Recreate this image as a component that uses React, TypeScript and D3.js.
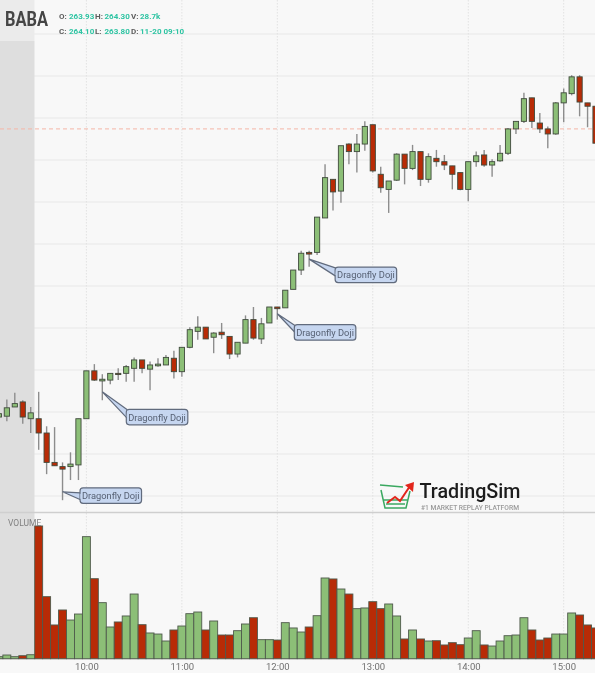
import React, { useRef, useEffect } from 'react';
import * as d3 from 'd3';

// 5 minute bars, first bar is 09:05
const firstBar = new Date(2020, 10, 20, 9, 5);

const opens = [263.94, 263.95, 264.06, 264.12, 263.92, 263.92, 263.75, 263.40, 263.35, 263.35, 263.37,
  263.92, 264.49, 264.37, 264.38, 264.46, 264.46, 264.52, 264.62, 264.51, 264.55, 264.56, 264.64,
  264.48, 264.77, 264.96, 265.01, 264.89, 264.95, 264.90, 264.69, 264.82, 265.10, 264.87, 265.06,
  265.25, 265.24, 265.46, 265.69, 265.90, 265.90, 266.31, 266.77, 266.63, 267.19, 267.10, 267.19,
  267.42, 266.83, 266.65, 266.76, 267.07, 266.90, 267.10, 266.77, 267.02, 266.98, 266.93, 266.85,
  266.65, 266.98, 267.06, 266.94, 266.99, 267.08, 267.37, 267.46, 267.74, 267.44, 267.37, 267.31,
  267.68, 267.79, 267.99, 267.68, 267.64];
const highs = [264.02, 264.15, 264.23, 264.14, 264.06, 264.24, 263.83, 263.82, 263.40, 263.52, 263.92,
  264.49, 264.57, 264.45, 264.46, 264.52, 264.56, 264.65, 264.62, 264.60, 264.64, 264.68, 264.73,
  264.77, 265.01, 265.14, 265.01, 264.95, 265.06, 264.90, 264.83, 265.15, 265.25, 265.12, 265.25,
  265.25, 265.45, 265.69, 265.92, 265.92, 266.32, 266.95, 266.77, 267.17, 267.20, 267.31, 267.46,
  267.42, 266.92, 266.75, 267.08, 267.07, 267.18, 267.10, 267.08, 267.12, 267.06, 266.93, 266.85,
  266.98, 267.10, 267.12, 267.01, 267.18, 267.38, 267.46, 267.80, 267.74, 267.56, 267.40, 267.69,
  267.85, 268.01, 268.01, 267.68, 267.64];
const lows = [263.90, 263.89, 264.06, 263.86, 263.75, 263.55, 263.26, 263.36, 262.95, 263.19, 263.19,
  263.92, 264.37, 264.14, 264.33, 264.38, 264.36, 264.36, 264.46, 264.26, 264.54, 264.56, 264.40,
  264.42, 264.76, 264.86, 264.87, 264.70, 264.87, 264.63, 264.65, 264.82, 264.86, 264.81, 265.06,
  265.10, 265.24, 265.46, 265.63, 265.73, 265.87, 266.31, 266.40, 266.49, 266.95, 266.85, 267.11,
  266.85, 266.61, 266.37, 266.75, 266.71, 266.88, 266.69, 266.73, 266.92, 266.88, 266.65, 266.64,
  266.51, 266.92, 266.92, 266.80, 266.98, 267.06, 267.31, 267.44, 267.38, 267.32, 267.14, 267.30,
  267.45, 267.77, 267.52, 267.39, 267.20];
const closes = [263.98, 264.05, 264.10, 263.94, 263.99, 263.75, 263.40, 263.36, 263.32, 263.38, 263.92,
  264.49, 264.38, 264.39, 264.46, 264.45, 264.54, 264.62, 264.52, 264.56, 264.57, 264.65, 264.48,
  264.77, 264.98, 265.01, 264.87, 264.94, 264.92, 264.69, 264.83, 265.10, 264.88, 265.05, 265.25,
  265.23, 265.45, 265.69, 265.89, 265.88, 266.32, 266.79, 266.62, 267.17, 267.10, 267.19, 267.40,
  266.87, 266.67, 266.75, 267.07, 266.90, 267.10, 266.77, 267.04, 266.98, 266.94, 266.83, 266.65,
  266.98, 267.05, 266.94, 266.98, 267.08, 267.37, 267.46, 267.73, 267.46, 267.37, 267.31, 267.68,
  267.80, 267.99, 267.69, 267.64, 267.20];
// volume in thousands of shares
const volumes = [29, 53, 29, 43, 57, 1904, 890, 484, 699, 555, 641, 1751, 1148, 804, 455, 527, 613, 928,
  488, 369, 354, 254, 412, 469, 646, 670, 412, 541, 340, 340, 402, 498, 588, 273, 273, 268, 517, 441,
  383, 455, 617, 1158, 1144, 1000, 928, 718, 728, 818, 718, 785, 613, 283, 412, 283, 254, 258, 197,
  230, 201, 297, 402, 197, 182, 254, 330, 340, 588, 412, 268, 297, 354, 354, 656, 627, 484, 441];

const lastPrice = 267.37;
const priceTicks = [263, 263.5, 264, 264.5, 265, 265.5, 266, 266.5, 267, 267.5, 268, 268.5];
const hourTicks = [10, 11, 12, 13, 14, 15];

// bars carrying a callout and the price the pointer ends on
const dojiBars = [8, 13, 35, 39];
const dojiTips = [263.05, 264.24, 265.17, 265.82];

const statsTop = [['O:', '263.93'], ['H:', '264.30'], ['V:', '28.7k']];
const statsBottom = [['C:', '264.10'], ['L:', '263.80'], ['D:', '11-20 09:10']];

const GREEN = '#8cbf77';
const RED = '#b82b06';
const FONT = 'Roboto, sans-serif';

const App = () => {
    const ref = useRef<SVGSVGElement | null>(null);

    useEffect(() => {
        const svg = d3.select(ref.current);
        svg.selectAll('*').remove();

        const bars = opens.map((o, i) => ({
            t: d3.timeMinute.offset(firstBar, i * 5),
            o, h: highs[i], l: lows[i], c: closes[i], v: volumes[i],
        }));
        const at = (h: number) => new Date(2020, 10, 20, h, 0);

        const x = d3.scaleTime().domain([at(10), at(15)]).range([86.4, 563.7]);
        const y = d3.scaleLinear().domain([263, 268.5]).range([496, 34]);
        const yVol = d3.scaleLinear().domain([0, 2000]).range([658.7, 519.3]);
        const step = x(at(10).getTime() + 5 * 60000) - x(at(10));

        svg.append('defs').append('clipPath').attr('id', 'plot')
            .append('rect').attr('width', 595).attr('height', 673);

        // slightly soft, the reference is an upscaled screenshot
        const root = svg.append('g').attr('clip-path', 'url(#plot)').style('filter', 'blur(0.45px)');

        root.append('rect').attr('width', 595).attr('height', 673).attr('fill', '#f8f8f8');

        // grid
        root.append('g').selectAll('line').data(priceTicks).enter().append('line')
            .attr('x1', 0).attr('x2', 595)
            .attr('y1', d => y(d)).attr('y2', d => y(d))
            .attr('stroke', '#eeeeee').attr('stroke-width', 1.3);
        root.append('g').selectAll('line').data(hourTicks).enter().append('line')
            .attr('x1', d => x(at(d))).attr('x2', d => x(at(d)))
            .attr('y1', 0).attr('y2', 659)
            .attr('stroke', '#e2e2e2').attr('stroke-dasharray', '1.5 1.5');

        // pre-market shading sits over the grid
        root.append('rect').attr('y', 41).attr('width', 34.5).attr('height', 618).attr('fill', '#dedede');
        root.append('rect').attr('width', 34.5).attr('height', 41).attr('fill', '#ebebeb');

        root.append('line').attr('x1', 0).attr('x2', 595)
            .attr('y1', y(lastPrice)).attr('y2', y(lastPrice))
            .attr('stroke', '#f5b5a6').attr('stroke-dasharray', '4 3');

        root.append('line').attr('x1', 0).attr('x2', 595).attr('y1', 512.5).attr('y2', 512.5)
            .attr('stroke', '#cfcfcf').attr('stroke-width', 1.3);
        root.append('line').attr('x1', 0).attr('x2', 595).attr('y1', 659).attr('y2', 659)
            .attr('stroke', '#cccccc');

        // volume
        root.append('g').selectAll('rect').data(bars).enter().append('rect')
            .attr('x', d => x(d.t) - step / 2)
            .attr('width', step)
            .attr('y', d => yVol(d.v))
            .attr('height', d => yVol(0) - yVol(d.v))
            .attr('fill', d => (d.c >= d.o ? GREEN : RED))
            .attr('stroke', '#4f5a4c').attr('stroke-width', 0.9);

        // candles
        const candle = root.append('g').selectAll('g').data(bars).enter().append('g');
        candle.append('line')
            .attr('x1', d => x(d.t)).attr('x2', d => x(d.t))
            .attr('y1', d => y(d.h)).attr('y2', d => y(d.l))
            .attr('stroke', '#8d8d8d').attr('stroke-width', 1.4);
        candle.append('rect')
            .attr('x', d => x(d.t) - 2.6)
            .attr('width', 5.2)
            .attr('y', d => y(Math.max(d.o, d.c)))
            .attr('height', d => Math.max(1.2, Math.abs(y(d.o) - y(d.c))))
            .attr('fill', d => (d.c >= d.o ? GREEN : RED))
            .attr('stroke', '#3f4a3c').attr('stroke-width', 0.9);

        // callouts, box offsets are relative to the pointer tip
        const boxes = [
            { dx: 17.5, dy: -4, tail: [[18, 1], [18, 8]] },
            { dx: 24, dy: 17.5, tail: [[25, 18], [24.5, 26]] },
            { dx: 17, dy: 11, tail: [[18, 12], [18, 19]] },
            { dx: 26, dy: 8, tail: [[27, 9], [26.5, 17]] },
        ];
        dojiBars.forEach((b, i) => {
            const tx = x(bars[b].t), ty = y(dojiTips[i]), box = boxes[i];
            const g = root.append('g');
            g.append('path')
                .attr('d', `M${tx + box.tail[0][0]},${ty + box.tail[0][1]}L${tx},${ty}L${tx + box.tail[1][0]},${ty + box.tail[1][1]}`)
                .attr('fill', '#c6d6f0').attr('stroke', '#616b7d').attr('stroke-width', 1.2);
            g.append('rect')
                .attr('x', tx + box.dx).attr('y', ty + box.dy)
                .attr('width', 61.5).attr('height', 15.5).attr('rx', 3)
                .attr('fill', '#c6d6f0').attr('stroke', '#616b7d').attr('stroke-width', 1.2);
            // covers the tail's stroke where it joins the box
            g.append('path')
                .attr('d', `M${tx + box.tail[0][0] + 1},${ty + box.tail[0][1] + 1}L${tx + box.tail[1][0] + 1},${ty + box.tail[1][1] - 1}`)
                .attr('stroke', '#c6d6f0').attr('stroke-width', 2.5);
            g.append('text')
                .attr('x', tx + box.dx + 30.75).attr('y', ty + box.dy + 11.3)
                .attr('text-anchor', 'middle')
                .attr('font-family', FONT).attr('font-size', 9.3).attr('fill', '#566073')
                .text('Dragonfly Doji');
        });

        // time axis
        const axis = d3.axisBottom(x)
            .tickValues(hourTicks.map(at))
            .tickFormat(d3.timeFormat('%H:%M') as any)
            .tickSize(0)
            .tickPadding(3.7);
        const axisG = root.append('g').attr('transform', 'translate(0,660)').call(axis);
        axisG.select('.domain').remove();
        axisG.selectAll('text').attr('font-family', FONT).attr('font-size', 9.5).attr('fill', '#707070');

        root.append('text').attr('x', 8).attr('y', 526)
            .attr('font-family', FONT).attr('font-size', 8.5).attr('fill', '#808080')
            .text('VOLUME');

        // header
        root.append('text').attr('x', 5).attr('y', 26)
            .attr('font-family', FONT).attr('font-size', 20).attr('font-weight', 700)
            .attr('fill', '#454545')
            .attr('textLength', 43).attr('lengthAdjust', 'spacingAndGlyphs')
            .text('BABA');
        const statCols = [[59, 69], [95, 104.5], [131, 140]];
        [statsTop, statsBottom].forEach((row, r) => {
            row.forEach(([label, value], c) => {
                const base = r === 0 ? 19 : 33.5;
                root.append('text').attr('x', statCols[c][0]).attr('y', base)
                    .attr('font-family', FONT).attr('font-size', 8).attr('font-weight', 700)
                    .attr('fill', '#5c5c5c').text(label);
                root.append('text').attr('x', statCols[c][1]).attr('y', base)
                    .attr('font-family', FONT).attr('font-size', 8).attr('font-weight', 700)
                    .attr('fill', '#2ec4a3').text(value);
            });
        });

        // logo
        const logo = root.append('g');
        logo.append('path')
            .attr('d', 'M380,485 L403,487 M381,490 L385,508 L406,508 L410,491 M383,500 L408,500 M386,504 L405,504')
            .attr('fill', 'none').attr('stroke', '#3aa860').attr('stroke-width', 1.5);
        logo.append('path')
            .attr('d', 'M387,503 L395,497 L400,501 L410,486')
            .attr('fill', 'none').attr('stroke', '#e2261c').attr('stroke-width', 2);
        logo.append('path').attr('d', 'M405,485 L414,482 L413,492 Z').attr('fill', '#e2261c');
        logo.append('text').attr('x', 419.5).attr('y', 498)
            .attr('font-family', FONT).attr('font-size', 21).attr('font-weight', 500)
            .attr('fill', '#1c1c1c')
            .attr('textLength', 101).attr('lengthAdjust', 'spacingAndGlyphs')
            .text('TradingSim');
        logo.append('text').attr('x', 421).attr('y', 510)
            .attr('font-family', FONT).attr('font-size', 7).attr('font-weight', 500)
            .attr('fill', '#9a9a9a')
            .attr('textLength', 98).attr('lengthAdjust', 'spacingAndGlyphs')
            .text('#1 MARKET REPLAY PLATFORM');
    }, []);

    return <svg ref={ref as React.Ref<SVGSVGElement>} width={600} height={673} style={{ position: 'absolute', left: 0, top: 0 }} />;
};

export default App;
